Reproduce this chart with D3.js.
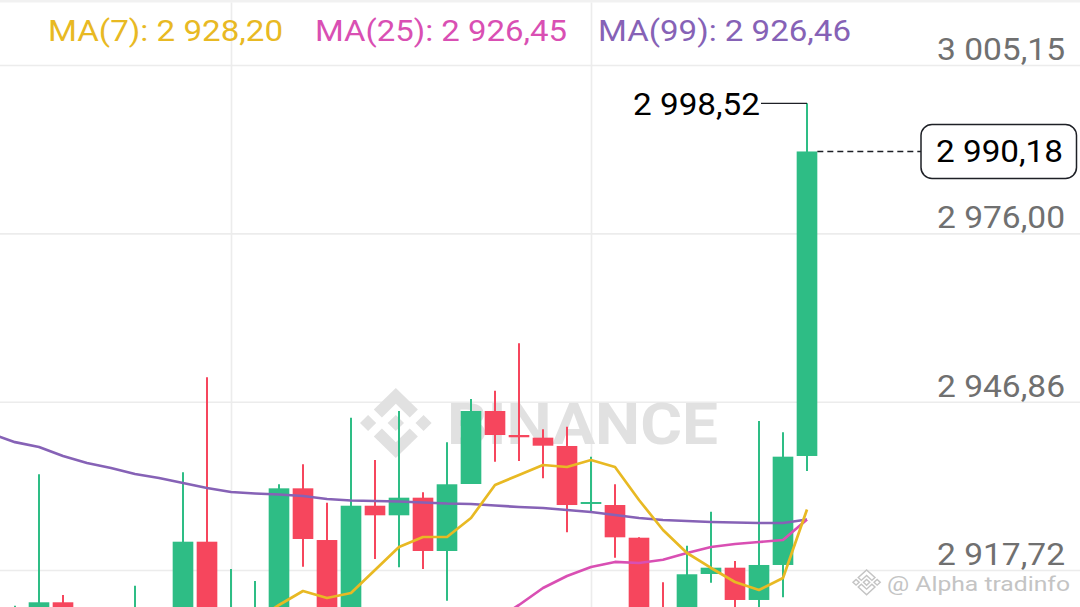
<!DOCTYPE html>
<html><head><meta charset="utf-8">
<script src="https://cdn.jsdelivr.net/npm/d3@7"></script>
<style>html,body{margin:0;padding:0;background:#fff;overflow:hidden}svg{display:block}</style>
</head><body>
<svg id="c" width="1080" height="607"></svg>
<script>
// ---- data (index 0 is the partially off-screen candle on the left) ----
const opens  = [2908.0, 2908.4, 2909.0, 2912.13, 2909.4, 2906.9, 2909.3, 2910.6, 2908.4, 2922.62, 2910.2, 2911.0, 2911.0, 2931.86, 2922.91, 2910.6, 2928.85, 2927.19, 2930.24, 2921.01, 2932.61, 2945.25, 2941.09, 2940.63, 2939.19, 2929.15, 2928.97, 2923.31, 2910.0, 2908.6, 2917.03, 2918.12, 2912.53, 2918.59, 2937.46];
const highs  = [2909.5, 2911.55, 2934.29, 2913.39, 2910.6, 2910.2, 2915.00, 2911.0, 2934.63, 2951.08, 2917.89, 2915.82, 2932.56, 2936.02, 2929.37, 2944.09, 2936.76, 2945.25, 2931.17, 2939.83, 2947.32, 2948.76, 2956.97, 2942.08, 2942.53, 2937.34, 2932.56, 2923.40, 2915.59, 2921.93, 2927.81, 2919.28, 2943.52, 2941.56, 2998.52];
const lows   = [2905.0, 2907.2, 2907.6, 2908.3, 2905.8, 2905.5, 2907.9, 2907.5, 2907.8, 2908.6, 2908.9, 2909.6, 2910.2, 2918.29, 2909.3, 2909.8, 2919.62, 2918.19, 2917.89, 2912.40, 2932.61, 2936.47, 2936.59, 2933.60, 2924.25, 2927.71, 2919.85, 2907.9, 2905.6, 2907.2, 2915.52, 2910.6, 2910.9, 2912.99, 2934.86];
const closes = [2906.5, 2910.2, 2912.13, 2909.4, 2906.9, 2909.3, 2910.6, 2908.4, 2922.62, 2910.2, 2911.1, 2911.0, 2931.86, 2923.09, 2910.6, 2928.85, 2927.19, 2930.24, 2921.01, 2932.56, 2945.25, 2941.09, 2940.70, 2939.24, 2928.97, 2929.49, 2923.38, 2909.2, 2906.8, 2916.98, 2918.12, 2912.53, 2918.59, 2937.34, 2990.18];
const ma7  = [null, null, null, null, null, null, null, null, null, null, null, 2909.0, 2911.66, 2914.08, 2912.87, 2913.74, 2917.72, 2921.70, 2923.43, 2923.43, 2926.72, 2932.44, 2934.17, 2935.90, 2935.55, 2936.76, 2935.55, 2929.84, 2924.65, 2920.66, 2918.07, 2915.64, 2914.26, 2916.33, 2928.20];
const ma25 = [null, null, null, null, null, null, null, null, null, null, null, null, null, null, null, null, null, null, null, null, null, 2909.0, 2911.66, 2914.60, 2916.68, 2918.24, 2919.11, 2918.93, 2919.50, 2920.66, 2921.70, 2922.22, 2922.57, 2922.91, 2926.45];
const ma99 = [2941.30, 2939.85, 2939.02, 2937.46, 2936.24, 2935.38, 2934.34, 2933.65, 2932.78, 2931.92, 2931.22, 2930.96, 2930.79, 2930.53, 2930.01, 2929.75, 2929.67, 2929.58, 2929.41, 2929.23, 2929.15, 2928.89, 2928.63, 2928.45, 2928.11, 2927.76, 2927.24, 2926.72, 2926.38, 2926.20, 2926.03, 2925.94, 2925.86, 2925.86, 2926.46];
const yTicks = [2917.72, 2946.86, 2976.00, 3005.15];
const timeGridIdx = [10, 25];
const maLabels = ["MA(7): ", "MA(25): ", "MA(99): "];
const maLast = [2928.20, 2926.45, 2926.46];
const watermark = "BINANCE";
const credit = "@ Alpha tradinfo";

// ---- setup ----
const W = 1080, H = 607;
const svg = d3.select("#c");
const n = closes.length;
const x = d3.scaleLinear().domain([0, n - 1]).range([-9, 807]);
const y = d3.scaleLinear().domain([2917.72, 3005.15]).range([570, 65]);
const loc = d3.formatLocale({decimal: ",", thousands: " ", grouping: [3], currency: ["", ""]});
const fmt = loc.format(",.2f");
const bw = (x(1) - x(0)) * 0.86;
const GREEN = "#2ebd85", RED = "#f6465d";
const C7 = "#e8b923", C25 = "#d94fb3", C99 = "#8662b6";
const FONT = "Roboto, 'Open Sans', sans-serif";

svg.append("rect").attr("width", W).attr("height", H).attr("fill", "#fff");
svg.append("rect").attr("width", W).attr("height", 2.5).attr("fill", "#f1f1f1");

// horizontal grid
const gGrid = svg.append("g").call(
  d3.axisLeft(y).tickValues(yTicks).tickSize(-W).tickFormat(""));
gGrid.select(".domain").remove();
gGrid.selectAll("line").attr("stroke", "#ececec").attr("stroke-width", 1.6);

// vertical grid
const gV = svg.append("g").attr("transform", "translate(0,2.5)").call(
  d3.axisBottom(x).tickValues(timeGridIdx).tickSize(H).tickFormat(""));
gV.select(".domain").remove();
gV.selectAll("line").attr("stroke", "#ececec").attr("stroke-width", 1.6);

// binance logo shapes (126.61 unit box)
function logo(g) {
  g.append("polygon").attr("points", "38.73,53.2 63.3,28.62 87.9,53.22 102.2,38.91 63.3,0 24.42,38.9");
  g.append("polygon").attr("points", "0,63.3 14.3,49 28.6,63.3 14.3,77.6");
  g.append("polygon").attr("points", "38.73,73.41 63.3,98 87.9,73.4 102.21,87.69 63.3,126.61 24.42,87.73");
  g.append("polygon").attr("points", "98,63.3 112.3,49 126.6,63.3 112.3,77.6");
  g.append("polygon").attr("points", "48.8,63.3 63.3,48.8 77.8,63.3 63.3,77.8");
}
// centre watermark
const wm = svg.append("g").attr("transform", "translate(360,388) scale(0.566,0.553)").attr("fill", "#e1e1e1");
logo(wm);
svg.append("text").attr("x", 447).attr("y", 443.5).text(watermark)
  .attr("font-family", FONT).attr("font-weight", 700).attr("font-size", 57)
  .attr("fill", "#e1e1e1").attr("textLength", 271).attr("lengthAdjust", "spacingAndGlyphs");

// candles
const cg = svg.append("g");
const idx = d3.range(n);
cg.selectAll("line.w").data(idx).join("line")
  .attr("x1", i => x(i)).attr("x2", i => x(i))
  .attr("y1", i => y(highs[i])).attr("y2", i => y(lows[i]))
  .attr("stroke", i => closes[i] >= opens[i] ? GREEN : RED).attr("stroke-width", 2);
cg.selectAll("rect.b").data(idx).join("rect")
  .attr("x", i => x(i) - bw / 2).attr("width", bw)
  .attr("y", i => y(Math.max(opens[i], closes[i])))
  .attr("height", i => Math.max(1.5, Math.abs(y(opens[i]) - y(closes[i]))))
  .attr("fill", i => closes[i] >= opens[i] ? GREEN : RED);

// MA lines
const line = d3.line().defined(d => d != null).x((d, i) => x(i)).y(d => y(d));
[[ma99, C99], [ma25, C25], [ma7, C7]].forEach(([arr, col]) => {
  svg.append("path").datum(arr).attr("d", line).attr("fill", "none")
    .attr("stroke", col).attr("stroke-width", 2.7).attr("stroke-linejoin", "round");
});

// y axis labels
const gA = svg.append("g").attr("transform", "translate(1065,0)").call(
  d3.axisLeft(y).tickValues(yTicks).tickSize(0).tickPadding(0).tickFormat(fmt));
gA.select(".domain").remove();
gA.selectAll("text").attr("y", -5.5).attr("dy", null).attr("x", 0)
  .attr("font-family", FONT).attr("font-size", 31).attr("fill", "#707070")
  .attr("textLength", 128).attr("lengthAdjust", "spacingAndGlyphs");

// highest price marker
const last = n - 1;
const yh = y(highs[last]);
svg.append("line").attr("x1", 761).attr("x2", x(last)).attr("y1", yh).attr("y2", yh)
  .attr("stroke", "#1e2026").attr("stroke-width", 1.2);
svg.append("text").attr("x", 760).attr("y", yh + 11.5).attr("text-anchor", "end")
  .text(fmt(highs[last])).attr("font-family", FONT).attr("font-size", 30.5).attr("fill", "#000")
  .attr("textLength", 127).attr("lengthAdjust", "spacingAndGlyphs");

// current price marker
const yc = y(closes[last]);
svg.append("line").attr("x1", x(last) + bw / 2).attr("x2", 921).attr("y1", yc).attr("y2", yc)
  .attr("stroke", "#1e2026").attr("stroke-width", 1.4).attr("stroke-dasharray", "6,4");
svg.append("rect").attr("x", 921).attr("y", yc - 27).attr("width", 155.5).attr("height", 54)
  .attr("rx", 11).attr("fill", "#fff").attr("stroke", "#1e2026").attr("stroke-width", 1.5);
svg.append("text").attr("x", 999.5).attr("y", yc + 11).attr("text-anchor", "middle")
  .text(fmt(closes[last])).attr("font-family", FONT).attr("font-size", 30.5).attr("fill", "#000")
  .attr("textLength", 127).attr("lengthAdjust", "spacingAndGlyphs");

// legend
const legX = [48, 315, 598], legW = [235, 252, 253], legC = [C7, C25, C99];
maLabels.forEach((lab, i) => {
  svg.append("text").attr("x", legX[i]).attr("y", 41).text(lab + fmt(maLast[i]))
    .attr("font-family", FONT).attr("font-size", 29.5).attr("fill", legC[i])
    .attr("textLength", legW[i]).attr("lengthAdjust", "spacingAndGlyphs");
});

// credit watermark
const sm = svg.append("g").attr("transform", "translate(853,570) scale(0.215,0.195)")
  .attr("fill", "#fff").attr("stroke", "#c4c4c4").attr("stroke-width", 7);
logo(sm);
svg.append("text").attr("x", 887).attr("y", 590.5).text(credit)
  .attr("font-family", FONT).attr("font-size", 20.5).attr("fill", "#c4c4c4")
  .attr("stroke", "#fff").attr("stroke-width", 2).attr("paint-order", "stroke")
  .attr("textLength", 183).attr("lengthAdjust", "spacingAndGlyphs");
</script>
</body></html>
